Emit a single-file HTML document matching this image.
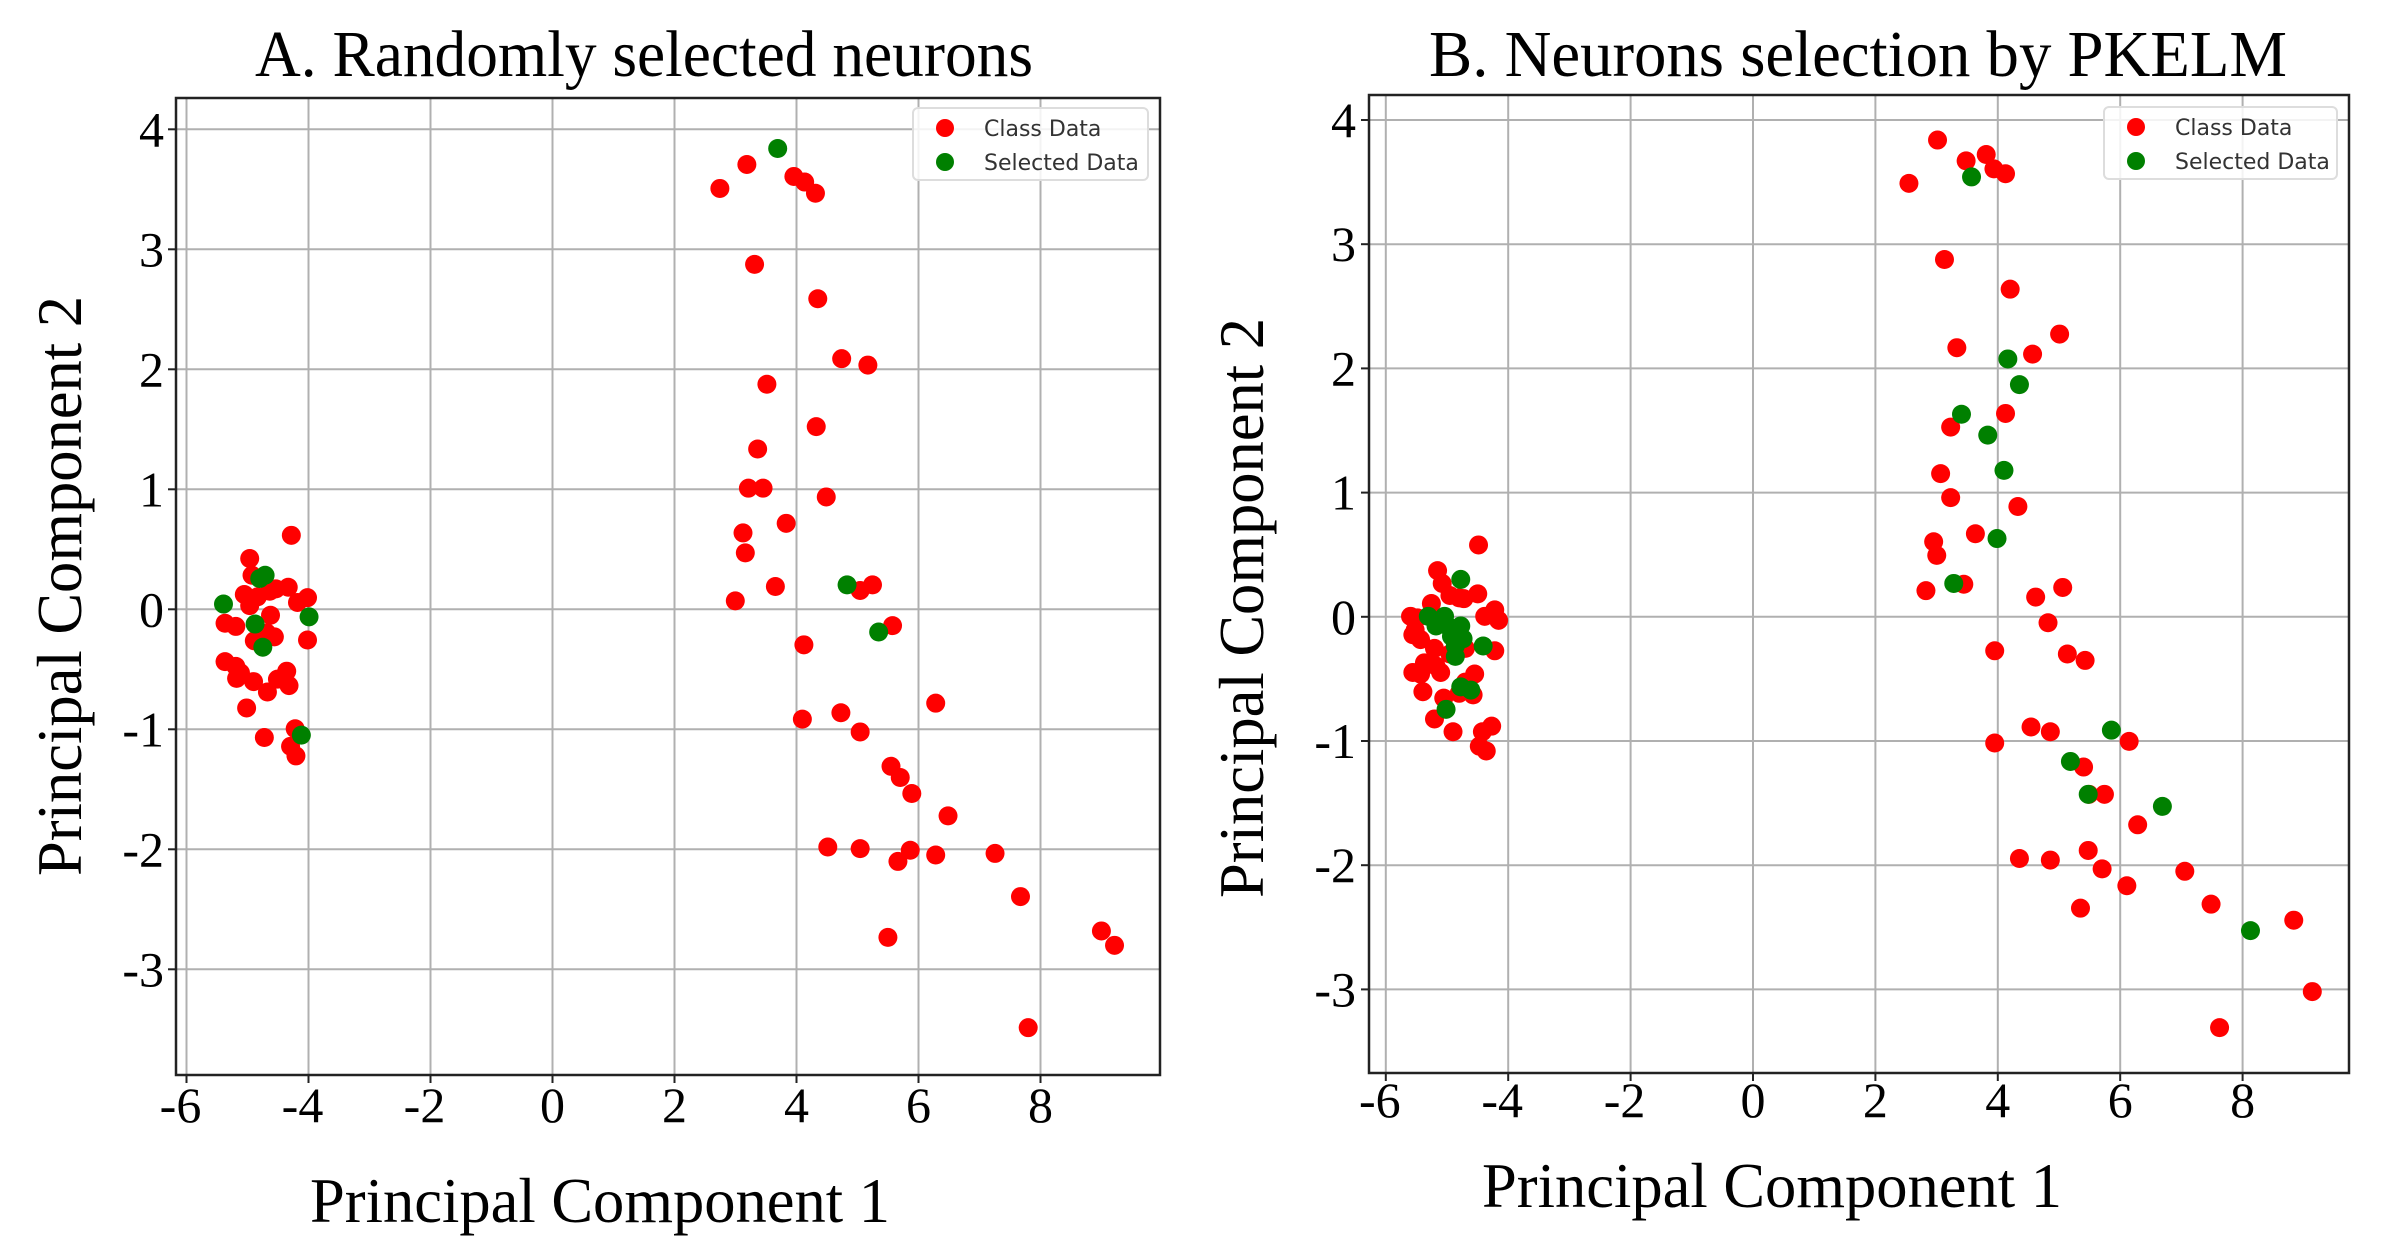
<!DOCTYPE html>
<html><head><meta charset="utf-8"><style>
html,body{margin:0;padding:0;background:#fff;}
svg{display:block;}
</style></head><body>
<svg id="s" xmlns="http://www.w3.org/2000/svg" width="2391" height="1258" viewBox="0 0 2391 1258">
<rect width="2391" height="1258" fill="#fff"/>
<g id="A"></g><g id="B"></g>
<g font-family="Liberation Serif, serif" fill="#000">
<text x="644" y="76" font-size="66" text-anchor="middle" textLength="778" lengthAdjust="spacingAndGlyphs">A. Randomly selected neurons</text>
<text x="1858" y="76" font-size="66" text-anchor="middle" textLength="858" lengthAdjust="spacingAndGlyphs">B. Neurons selection  by PKELM</text>
<text x="600" y="1222" font-size="64" text-anchor="middle" textLength="580" lengthAdjust="spacingAndGlyphs">Principal Component 1</text>
<text x="1772" y="1207" font-size="64" text-anchor="middle" textLength="580" lengthAdjust="spacingAndGlyphs">Principal Component 1</text>
<text transform="translate(81,586) rotate(-90)" font-size="64" text-anchor="middle" textLength="580" lengthAdjust="spacingAndGlyphs">Principal Component 2</text>
<text transform="translate(1263,608) rotate(-90)" font-size="64" text-anchor="middle" textLength="580" lengthAdjust="spacingAndGlyphs">Principal Component 2</text>
</g>
</svg>
<script>
var NS="http://www.w3.org/2000/svg";
function el(p,t,a,txt){var e=document.createElementNS(NS,t);for(var k in a)e.setAttribute(k,a[k]);if(txt!==undefined)e.textContent=txt;p.appendChild(e);return e;}
function panel(g,P){
  var X=function(x){return P.x0+P.sx*x;}, Y=function(y){return P.y0-P.sy*y;};
  for(var x=-6;x<=8;x+=2){el(g,'line',{x1:X(x),x2:X(x),y1:P.top,y2:P.bot,stroke:'#b0b0b0','stroke-width':2});
    el(g,'line',{x1:X(x),x2:X(x),y1:P.bot,y2:P.bot+8,stroke:'#222','stroke-width':2});
    el(g,'text',{x:X(x)-(x<0?6:0),y:P.xl,'font-family':'Liberation Serif, serif','font-size':50,'text-anchor':'middle'},String(x));}
  for(var y=-3;y<=4;y++){el(g,'line',{x1:P.left,x2:P.right,y1:Y(y),y2:Y(y),stroke:'#b0b0b0','stroke-width':2});
    el(g,'line',{x1:P.left-8,x2:P.left,y1:Y(y),y2:Y(y),stroke:'#222','stroke-width':2});
    el(g,'text',{x:P.yl,y:Y(y)+17,'font-family':'Liberation Serif, serif','font-size':50,'text-anchor':'end'},String(y));}
  el(g,'rect',{x:P.left,y:P.top,width:P.right-P.left,height:P.bot-P.top,fill:'none',stroke:'#222','stroke-width':2.5});
  function pts(arr,col){arr.forEach(function(p){var dx=-6+(p[0]-P.gx0)/P.gxs, dy=4-(p[1]-P.gy0)/P.gys;
    el(g,'circle',{cx:X(dx),cy:Y(dy),r:9.5,fill:col});});}
  pts(P.red,'#ff0000');pts(P.green,'#008000');
  var L=P.leg;
  el(g,'rect',{x:L[0],y:L[1],width:L[2],height:72,rx:5,fill:'#fff','fill-opacity':0.85,stroke:'#ddd','stroke-width':2});
  el(g,'circle',{cx:L[0]+32,cy:L[1]+20,r:9,fill:'#ff0000'});
  el(g,'circle',{cx:L[0]+32,cy:L[1]+54,r:9,fill:'#008000'});
  el(g,'text',{x:L[0]+71,y:L[1]+28,'font-family':'DejaVu Sans, sans-serif','font-size':22,fill:'#333'},'Class Data');
  el(g,'text',{x:L[0]+71,y:L[1]+62,'font-family':'DejaVu Sans, sans-serif','font-size':22,fill:'#333'},'Selected Data');
}
panel(document.getElementById('A'),{x0:552.5,sx:61.0,y0:609.3,sy:120,left:176,right:1160,top:98,bot:1075,xl:1122,yl:164,
 gx0:248,gxs:79.14,gy0:160,gys:150.14,leg:[913,108,235],
 red:[[940,234],[975,204],[1036,219],[1050,226],[1064,240],[985,329],[1067,372],[1098,447],[1132,455],[1001,479],[1065,532],[989,560],[977,609],[996,609],[1078,620],[1026,653],[970,665],[973,690],[1012,732],[960,750],[1122,737],[1138,730],[1164,781],[1049,805],[1220,878],[1047,898],[1097,890],[1122,914],[1162,957],[1174,971],[1189,991],[1236,1019],[1080,1058],[1122,1060],[1171,1076],[1187,1062],[1220,1068],[1297,1066],[1330,1120],[1158,1171],[1435,1163],[1452,1181],[1340,1284],
 [330,697],[384,668],[333,718],[323,742],[340,745],[330,756],[356,738],[364,735],[380,733],[405,746],[392,752],[298,778],[312,782],[357,768],[336,800],[362,795],[352,790],[405,799],[298,826],[312,832],[318,840],[313,847],[335,851],[378,838],[381,856],[353,864],[326,884],[389,910],[349,921],[383,932],[390,944],[366,848]],
 green:[[1015,184],[1105,730],[1146,789],[296,754],[350,718],[343,722],[337,779],[407,770],[347,808],[397,918]]});
panel(document.getElementById('B'),{x0:1753,sx:61.2,y0:616.8,sy:124.2,left:1369,right:2349,top:95,bot:1073,xl:1117,yl:1356,
 gx0:255,gxs:79.2,gy0:149,gys:154.9,leg:[2104,107,233],
 red:[[932,228],[969,174],[1006,200],[1032,192],[1042,210],[1057,216],[978,323],[1063,360],[1127,416],[994,433],[1092,441],[1057,515],[986,532],[973,590],[986,620],[1073,631],[1018,665],[964,675],[968,692],[1003,728],[954,736],[1096,744],[1131,732],[1112,776],[1043,811],[1137,815],[1160,823],[1043,926],[1090,906],[1115,912],[1217,924],[1158,956],[1165,990],[1185,990],[1228,1028],[1075,1070],[1115,1072],[1164,1060],[1182,1083],[1214,1104],[1289,1086],[1154,1132],[1323,1127],[1430,1147],[1454,1236],[1334,1281],
 [287,768],[293,785],[300,797],[290,791],[296,770],[322,711],[314,752],[328,727],[338,742],[350,745],[356,746],[374,740],[375,679],[383,768],[396,760],[401,773],[305,826],[290,838],[300,840],[320,830],[326,838],[303,862],[318,896],[342,912],[358,850],[370,840],[368,866],[392,905],[380,912],[376,930],[385,936],[318,808],[358,808],[396,811],[330,870],[350,864],[346,790],[338,815]],
 green:[[1013,220],[1060,447],[1075,479],[1000,516],[1034,542],[1055,586],[1046,671],[990,727],[1194,910],[1141,949],[1164,990],[1260,1005],[1374,1160],[352,722],[310,768],[320,780],[331,768],[352,780],[340,793],[355,796],[345,805],[345,818],[381,805],[352,856],[365,860],[333,884],[335,780]]});
</script>
</body></html>
